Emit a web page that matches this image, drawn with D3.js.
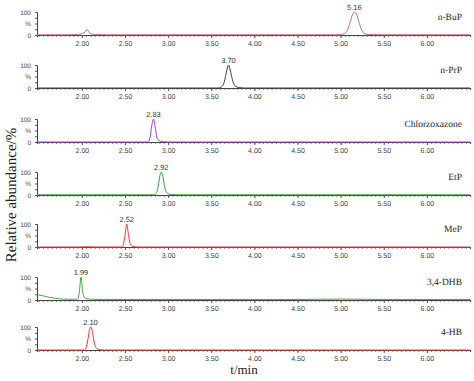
<!DOCTYPE html>
<html><head><meta charset="utf-8">
<script src="https://cdn.jsdelivr.net/npm/d3@7"></script>
<style>body{margin:0;background:#fff}svg{display:block}text{text-rendering:geometricPrecision}</style>
</head><body><svg id="c" width="474" height="381"></svg>
<script>
const compounds = ["n-BuP","n-PrP","Chlorzoxazone","EtP","MeP","3,4-DHB","4-HB"];
const colors = ["#c86a72","#404040","#a03cc0","#3c9a3c","#e8383c","#44a644","#e8383c"];
const peakTimes = [5.16,3.70,2.83,2.92,2.52,1.99,2.10];
const majorTicks = [2.00,2.50,3.00,3.50,4.00,4.50,5.00,5.50,6.00];
const trace0 = [[1.48,1],[1.85,1],[1.95,3],[2.01,7],[2.04,14],[2.06,24],[2.08,13],[2.11,5],[2.16,2],[2.3,1],[4.98,1],[5.04,5],[5.08,22],[5.11,55],[5.14,90],[5.16,100],[5.18,92],[5.21,60],[5.24,25],[5.27,8],[5.32,2],[5.5,1],[6.5,1]];
const trace1 = [[1.48,0],[3.58,0],[3.62,5],[3.65,25],[3.68,75],[3.70,100],[3.72,78],[3.75,30],[3.78,8],[3.82,2],[3.9,0],[6.5,0]];
const trace2 = [[1.48,0],[2.77,0],[2.79,18],[2.81,70],[2.83,100],[2.85,65],[2.87,20],[2.90,5],[2.94,1],[3.0,0],[6.5,0]];
const trace3 = [[1.48,1],[2.84,1],[2.87,12],[2.89,50],[2.91,92],[2.92,100],[2.94,80],[2.96,35],[2.99,8],[3.03,2],[3.1,1],[6.5,1]];
const trace4 = [[1.48,0],[1.95,0],[2.05,1],[2.15,0],[2.47,0],[2.48,8],[2.50,50],[2.52,100],[2.54,55],[2.56,15],[2.59,3],[2.65,0],[6.5,0]];
const trace5 = [[1.48,24],[1.55,18],[1.62,12],[1.70,7],[1.78,4],[1.90,3],[1.95,4],[1.97,30],[1.99,100],[2.01,35],[2.03,10],[2.06,5],[2.12,3],[2.5,2],[3.5,2],[4.5,2],[4.7,3],[5.0,4],[5.3,3],[5.6,2],[6.5,2]];
const trace6 = [[1.48,0],[2.03,0],[2.05,10],[2.07,45],[2.09,90],[2.10,100],[2.12,85],[2.14,40],[2.16,12],[2.19,3],[2.25,0],[6.5,0]];
const traces = [trace0,trace1,trace2,trace3,trace4,trace5,trace6];
const peakHeights = [100,100,100,100,100,100,100];

const svg = d3.select("#c");
const x = d3.scaleLinear().domain([1.48,6.50]).range([37,470]);
const bases = [35,88,142,195,247,300,350];
const H = 23;
const minor = d3.range(150,651,5).map(v=>v/100);

bases.forEach((b,i)=>{
  const y = d3.scaleLinear().domain([0,100]).range([b,b-H]);
  const g = svg.append("g");
  const line = d3.line().x(d=>x(d[0])).y(d=>y(d[1])).curve(d3.curveMonotoneX);
  const xa = d3.axisBottom(x).tickValues(minor.filter(v=>v>=1.48&&v<=6.5)).tickSize(2).tickFormat("");
  const ga = g.append("g").attr("transform",`translate(0,${b})`).call(xa);
  ga.select(".domain").attr("stroke","#444").attr("stroke-width",1.2);
  ga.selectAll(".tick line").attr("stroke","#555").attr("stroke-width",0.7);
  const xm = d3.axisBottom(x).tickValues(majorTicks).tickSize(3).tickPadding(3).tickFormat(d3.format(".2f"));
  const gm = g.append("g").attr("transform",`translate(0,${b})`).call(xm);
  gm.select(".domain").remove();
  gm.selectAll(".tick line").attr("stroke","#555");
  gm.selectAll("text").attr("font-family","Liberation Sans, Arial, sans-serif").attr("font-size",7).attr("fill","#444");
  const ya = d3.axisLeft(y).tickValues([0,25,50,75,100]).tickSize(2).tickFormat(d=> d===0?"0":d===100?"100":d===50?"%":"");
  const gy = g.append("g").attr("transform",`translate(37,0)`).call(ya);
  gy.select(".domain").attr("stroke","#444");
  gy.selectAll(".tick line").attr("stroke","#555");
  gy.selectAll("text").attr("font-family","Liberation Sans, Arial, sans-serif").attr("font-size",6.5).attr("fill","#444").attr("dx",-1);
  g.append("path").datum(traces[i]).attr("d",line).attr("fill","none").attr("stroke",colors[i]).attr("stroke-width",1);
  g.append("text").attr("x",x(peakTimes[i])).attr("y",y(peakHeights[i])-2).attr("text-anchor","middle")
    .attr("font-family","Liberation Sans, Arial, sans-serif").attr("font-size",7.5).attr("fill","#333")
    .text(peakTimes[i].toFixed(2));
  g.append("text").attr("x",462).attr("y",b-15).attr("text-anchor","end")
    .attr("font-family","Liberation Serif, Times New Roman, serif").attr("font-size",9.5).attr("fill","#222")
    .text(compounds[i]);
});

svg.append("text").attr("transform","translate(16,195) rotate(-90)").attr("text-anchor","middle")
  .attr("font-family","Liberation Serif, Times New Roman, serif").attr("font-size",15).attr("fill","#222")
  .text("Relative  abundance/%");
svg.append("text").attr("x",244).attr("y",374).attr("text-anchor","middle")
  .attr("font-family","Liberation Serif, Times New Roman, serif").attr("font-size",13).attr("fill","#222")
  .text("t/min");
</script></body></html>
